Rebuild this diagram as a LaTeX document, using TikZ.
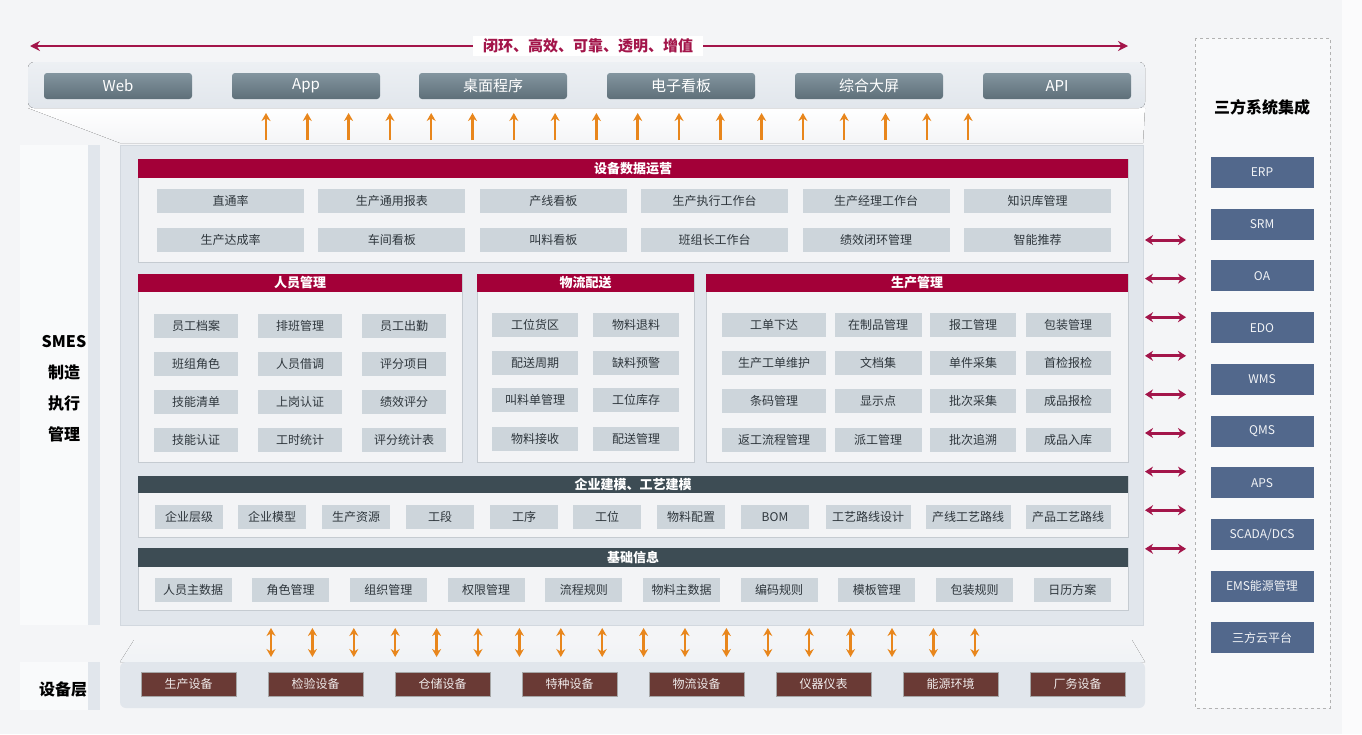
\documentclass[tikz,border=0pt]{standalone}
\usepackage{fontspec}
\setmainfont{Noto Sans CJK SC}
\usetikzlibrary{arrows.meta, positioning}
\definecolor{pagebg}{HTML}{F4F5F7}
\definecolor{panelc}{HTML}{E1E6EC}
\definecolor{paneledge}{HTML}{D2D8DF}
\definecolor{secbg}{HTML}{F3F4F6}
\definecolor{secedge}{HTML}{C5CBD1}
\definecolor{itemc}{HTML}{CDD5DB}
\definecolor{itemtxt}{HTML}{2E363C}
\definecolor{crimson}{HTML}{A30038}
\definecolor{slatehd}{HTML}{3D4C54}
\definecolor{btntop}{HTML}{83959F}
\definecolor{btnbot}{HTML}{5E6F79}
\definecolor{arrorange}{HTML}{E8861C}
\definecolor{arrred}{HTML}{A3154A}
\definecolor{sysblue}{HTML}{52688C}
\definecolor{devbrown}{HTML}{6A3A35}
\newcommand{\fs}[1]{\fontsize{#1}{#1}\selectfont}

\begin{document}
\begin{tikzpicture}[x=1pt, y=-1pt, >=Stealth,
    item/.style={fill=itemc, text=itemtxt, minimum height=24pt, inner sep=0pt, font=\fs{12}},
    redhd/.style={fill=crimson, text=white, inner sep=0pt, font=\bfseries\fs{13}},
    darkhd/.style={fill=slatehd, text=white, inner sep=0pt, font=\bfseries\fs{13}},
    btn/.style={rounded corners=3pt, top color=btntop, bottom color=btnbot, text=white, minimum width=148pt, minimum height=26pt, inner sep=0pt, font=\fs{15}},
    sysbox/.style={fill=sysblue, text=white!92!sysblue, minimum width=103pt, minimum height=31pt, inner sep=0pt, font=\fs{12}},
    devbox/.style={fill=devbrown, draw=gray!70, line width=1pt, text=white!90!devbrown, minimum width=95pt, minimum height=24pt, inner sep=0pt, font=\fs{12}},
    secbody/.style={fill=secbg, draw=secedge, line width=0.8pt},
    sidelbl/.style={font=\bfseries\fontsize{16}{31}\selectfont, align=center},
    uparr/.style={draw=arrorange, line width=2.5pt, arrows={-Stealth[length=8pt, width=9pt]}},
    duparr/.style={draw=arrorange, line width=2.5pt, arrows={Stealth[length=8pt, width=9pt]-Stealth[length=8pt, width=9pt]}},
    redarr/.style={draw=arrred, line width=3pt, arrows={Stealth[length=8pt, width=10pt]-Stealth[length=8pt, width=10pt]}},
    redline/.style={draw=arrred, line width=2pt, arrows={-Stealth[length=10pt, width=10pt]}}]
            \useasboundingbox (0,0) rectangle (1362,734);
            \fill[pagebg] (0,0) rectangle (1362,734);
            \fill[white!60!pagebg] (1342,0) rectangle (1362,734);

            \node[fill=white, text=arrred, font=\bfseries\fs{15}, inner xsep=10pt, inner ysep=3pt] (motto) at (588,46) {闭环、高效、可靠、透明、增值};
            \draw[redline] (motto.west) -- (30,46);
            \draw[redline] (motto.east) -- (1128,46);

            \fill[top color=white, bottom color=pagebg] (28,108) -- (1145,108) -- (1143,143) -- (120,143) -- cycle;
            \fill[rounded corners=6pt, top color=white!40!panelc, bottom color=panelc] (28,62) rectangle (1145,108);
            \foreach \t/\cx [count=\i] in {Web/118, App/306, 桌面程序/493, 电子看板/681, 综合大屏/869, API/1057}
                \node[btn] (btn\i) at (\cx,86) {\t};
            \foreach \i in {0,...,17}
                \draw[uparr] ({266+41.3*\i},140) -- ++(0,-27);

            \fill[white!50!pagebg] (20,145) rectangle (100,625);
            \fill[panelc] (88,145) rectangle (100,625);
            \node[sidelbl] (smes) at (64,389) {SMES\\制造\\执行\\管理};

            \filldraw[fill=panelc, draw=paneledge] (120,145) rectangle (1143,625);

            \filldraw[secbody] (138,159) rectangle (1128,262);
            \node[redhd, minimum width=990pt, minimum height=19pt] (yyhd) at (633,168.5) {设备数据运营};
            \foreach \ta/\tb [count=\i from 0] in {直通率/生产达成率, 生产通用报表/车间看板, 产线看板/叫料看板, 生产执行工作台/班组长工作台, 生产经理工作台/绩效闭环管理, 知识库管理/智能推荐} {
                \node[item, minimum width=147pt] (yya\i) at ({230.5+161.4*\i},201) {\ta};
                \node[item, minimum width=147pt] (yyb\i) at ({230.5+161.4*\i},240) {\tb};
            }

            \filldraw[secbody] (138,274) rectangle (462,462);
            \node[redhd, minimum width=324pt, minimum height=18pt] (ryhd) at (300,283) {人员管理};
            \foreach \ry/\ta/\tb/\tc [count=\r] in {326/员工档案/排班管理/员工出勤, 364/班组角色/人员借调/评分项目, 402/技能清单/上岗认证/绩效评分, 440/技能认证/工时统计/评分统计表} {
                \node[item, minimum width=84pt] (rya\r) at (196,\ry) {\ta};
                \node[item, minimum width=84pt] (ryb\r) at (300,\ry) {\tb};
                \node[item, minimum width=84pt] (ryc\r) at (404,\ry) {\tc};
            }

            \filldraw[secbody] (477,274) rectangle (694,462);
            \node[redhd, minimum width=217pt, minimum height=18pt] (wlhd) at (585.5,283) {物流配送};
            \foreach \ry/\ta/\tb [count=\r] in {325/工位货区/物料退料, 363/配送周期/缺料预警, 400/叫料单管理/工位库存, 439/物料接收/配送管理} {
                \node[item, minimum width=86pt] (wla\r) at (535,\ry) {\ta};
                \node[item, minimum width=86pt] (wlb\r) at (636,\ry) {\tb};
            }

            \filldraw[secbody] (706,274) rectangle (1128,462);
            \node[redhd, minimum width=422pt, minimum height=18pt] (schd) at (917,283) {生产管理};
            \foreach \ry/\ta/\tb/\tc/\td [count=\r] in {325/工单下达/在制品管理/报工管理/包装管理, 363/生产工单维护/文档集/单件采集/首检报检, 401/条码管理/显示点/批次采集/成品报检, 440/返工流程管理/派工管理/批次追溯/成品入库} {
                \node[item, minimum width=104pt] (sca\r) at (774,\ry) {\ta};
                \node[item, minimum width=87pt] (scb\r) at (878,\ry) {\tb};
                \node[item, minimum width=86pt] (scc\r) at (973,\ry) {\tc};
                \node[item, minimum width=85pt] (scd\r) at (1068,\ry) {\td};
            }

            \filldraw[secbody] (138,476) rectangle (1128,537);
            \node[darkhd, minimum width=990pt, minimum height=17pt] (jmhd) at (633,484) {企业建模、工艺建模};
            \foreach \t/\cx/\w [count=\i] in {企业层级/189/68, 企业模型/272/68, 生产资源/356/68, 工段/440/68, 工序/524/68, 工位/607/68, 物料配置/691/68, BOM/775/68, 工艺路线设计/868/85, 产线工艺路线/968/85, 产品工艺路线/1068/85}
                \node[item, minimum width=\w pt] (jm\i) at (\cx,517) {\t};

            \filldraw[secbody] (138,548) rectangle (1128,610);
            \node[darkhd, minimum width=990pt, minimum height=19pt] (jchd) at (633,557.5) {基础信息};
            \foreach \t [count=\i from 0] in {人员主数据, 角色管理, 组织管理, 权限管理, 流程规则, 物料主数据, 编码规则, 模板管理, 包装规则, 日历方案}
                \node[item, minimum width=77pt] (jc\i) at ({193+97.7*\i},590) {\t};

            \fill[top color=pagebg, bottom color=white!50!panelc] (134,640) -- (1132,640) -- (1145,662) -- (120,662) -- cycle;
            \foreach \i in {0,...,17}
                \draw[duparr] ({271+41.4*\i},628) -- ++(0,29);
            \fill[rounded corners=6pt, fill=panelc] (120,662) rectangle (1145,708);
            \fill[white!50!pagebg] (20,662) rectangle (100,710);
            \fill[panelc] (88,662) rectangle (100,710);
            \node[sidelbl] (sbc) at (63,689) {设备层};
            \foreach \t [count=\i from 0] in {生产设备, 检验设备, 仓储设备, 特种设备, 物流设备, 仪器仪表, 能源环境, 厂务设备}
                \node[devbox] (dev\i) at ({188.5+127*\i},684) {\t};

            \filldraw[fill=white!40!pagebg, draw=gray!60, dashed, line width=0.6pt] (1195,38) rectangle (1330,708);
            \node[font=\bfseries\fs{16}] (sfhd) at (1262,107) {三方系统集成};
            \foreach \t [count=\i from 0] in {ERP, SRM, OA, EDO, WMS, QMS, APS, {SCADA/DCS}, EMS能源管理, 三方云平台}
                \node[sysbox] (sys\i) at (1262,{172.5+51.7*\i}) {\t};
            \foreach \i in {0,...,8}
                \draw[redarr] (1145,{240+38.6*\i}) -- ++(41,0);
        \end{tikzpicture}
\end{document}
